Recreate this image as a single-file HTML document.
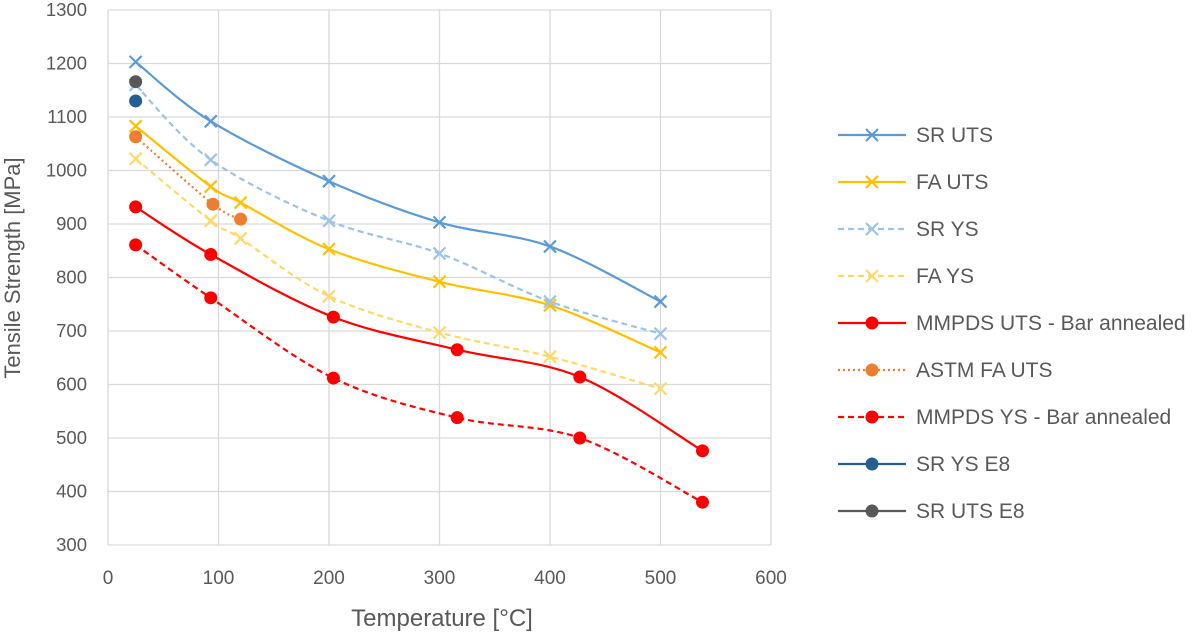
<!DOCTYPE html>
<html><head><meta charset="utf-8"><style>
body{margin:0;background:#fff;font-family:"Liberation Sans",sans-serif;}
svg text{font-family:"Liberation Sans",sans-serif;fill:#595959;}
</style></head><body>
<svg id="c" width="1200" height="632"></svg>
<script>
const xTicks=[0,100,200,300,400,500,600];
const yTicks=[300,400,500,600,700,800,900,1000,1100,1200,1300];
const srUtsX=[25,93,200,300,400,500], srUtsY=[1203,1092,980,903,858,755];
const faUtsX=[25,93,120,200,300,400,500], faUtsY=[1083,970,940,853,792,748,660];
const srYsX=[25,93,200,300,400,500], srYsY=[1160,1020,906,845,755,695];
const faYsX=[25,93,120,200,300,400,500], faYsY=[1022,906,873,765,697,652,592];
const mmUtsX=[25,93,204,316,427,538], mmUtsY=[932,843,726,665,614,476];
const astmX=[25,95,120], astmY=[1063,937,909];
const mmYsX=[25,93,204,316,427,538], mmYsY=[861,762,612,538,500,380];
const e8YsX=[25], e8YsY=[1130];
const e8UtsX=[25], e8UtsY=[1166];
const names=["SR UTS","FA UTS","SR YS","FA YS","MMPDS UTS - Bar annealed","ASTM FA UTS","MMPDS YS - Bar annealed","SR YS E8","SR UTS E8"];
const NS="http://www.w3.org/2000/svg", svg=document.getElementById('c');
const X=v=>108+(v-0)*663/600, Y=v=>545-(v-300)*535/1000;
function el(t,a,p){const e=document.createElementNS(NS,t);for(const k in a)e.setAttribute(k,a[k]);(p||svg).appendChild(e);return e;}
xTicks.forEach(t=>{const g=el('line',{x1:X(t),x2:X(t),y1:Y(300),y2:Y(1300),stroke:'#d9d9d9','stroke-width':1.3});

const tx=el('text',{x:X(t),y:584,'text-anchor':'middle','font-size':19});tx.textContent=t;
});
yTicks.forEach(t=>{const g=el('line',{x1:X(0),x2:X(600),y1:Y(t),y2:Y(t),stroke:'#d9d9d9','stroke-width':1.3});

const tx=el('text',{x:87,y:Y(t)+6,'text-anchor':'end','font-size':18.5});tx.textContent=t;
});
let xt=el('text',{x:442,y:626,'text-anchor':'middle','font-size':24});xt.textContent='Temperature [°C]';

let yt=el('text',{x:20,y:268,'text-anchor':'middle','font-size':22,transform:'rotate(-90 20 268)'});yt.textContent='Tensile Strength [MPa]';

function smooth(p){if(p.length<2)return '';let d='M'+p[0][0]+','+p[0][1];
for(let i=0;i<p.length-1;i++){const p0=p[i-1]||p[i],p1=p[i],p2=p[i+1],p3=p[i+2]||p2;
d+=` C${p1[0]+(p2[0]-p0[0])/6},${p1[1]+(p2[1]-p0[1])/6} ${p2[0]-(p3[0]-p1[0])/6},${p2[1]-(p3[1]-p1[1])/6} ${p2[0]},${p2[1]}`;}return d;}
function marker(x,y,m,c,g){if(m==='x'){el('path',{d:`M${x-6},${y-6}L${x+6},${y+6}M${x-6},${y+6}L${x+6},${y-6}`,stroke:c,'stroke-width':2.2},g);}
else el('circle',{cx:x,cy:y,r:6.5,fill:c},g);}
const series=[[srUtsX,srUtsY,'#5b9bd5','','x'],[faUtsX,faUtsY,'#ffc000','','x'],[srYsX,srYsY,'#9dc3e6','6,4','x'],[faYsX,faYsY,'#ffd966','6,4','x'],
[mmUtsX,mmUtsY,'#ff0000','','o'],[astmX,astmY,'#ed7d31','2,3','o'],[mmYsX,mmYsY,'#ff0000','6,4','o'],[e8YsX,e8YsY,'#255e91','','o'],[e8UtsX,e8UtsY,'#595959','','o']];
series.forEach((s,i)=>{const g=el('g',{});


const pts=s[0].map((x,j)=>[X(x),Y(s[1][j])]);
if(pts.length>1)el('path',{d:smooth(pts),fill:'none',stroke:s[2],'stroke-width':2.2,'stroke-dasharray':s[3]||'none'},g);
pts.forEach(p=>marker(p[0],p[1],s[4],s[2],g));
const ly=135+i*47, lg=el('g',{});

el('line',{x1:838,x2:906,y1:ly,y2:ly,stroke:s[2],'stroke-width':2.2,'stroke-dasharray':s[3]||'none'},lg);
marker(872,ly,s[4],s[2],lg);
const t=el('text',{x:916,y:ly+7,'font-size':21},lg);t.textContent=names[i];});
</script></body></html>
